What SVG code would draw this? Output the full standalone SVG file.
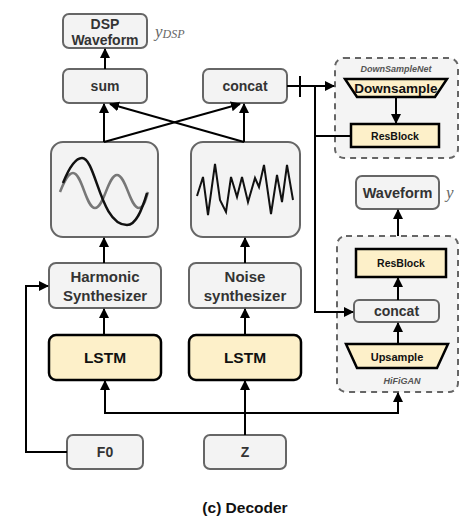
<svg xmlns="http://www.w3.org/2000/svg" width="474" height="526" viewBox="0 0 474 526">
<defs>
<marker id="ah" viewBox="0 0 10 10" refX="9" refY="5" markerWidth="10" markerHeight="10" markerUnits="userSpaceOnUse" orient="auto">
<path d="M0,0 L10,5 L0,10 z" fill="#000"/>
</marker>
<style>
.g{fill:#f3f3f3;stroke:#666;stroke-width:2}
.y{fill:#fdf0c9;stroke:#000;stroke-width:2.5}
.dash{fill:#f4f4f4;stroke:#666;stroke-width:2;stroke-dasharray:6,5}
.t{font-family:"Liberation Sans",Arial,sans-serif;font-weight:bold;fill:#333;text-anchor:middle}
.tk{font-family:"Liberation Sans",Arial,sans-serif;font-weight:bold;fill:#111;text-anchor:middle}
.lab{font-family:"Liberation Sans",Arial,sans-serif;font-weight:bold;font-style:italic;fill:#555;font-size:9px;text-anchor:middle}
.m{font-family:"Liberation Serif","Times New Roman",serif;font-style:italic;fill:#666}
.c{fill:none;stroke:#000;stroke-width:2}
</style>
</defs>
<rect width="474" height="526" fill="#fff"/>

<g id="dsp">
<rect class="g" x="63" y="14" width="84" height="34" rx="6"/>
<text class="t" x="105" y="29" font-size="14">DSP</text>
<text class="t" x="105" y="44.5" font-size="14">Waveform</text>
<text class="m" x="155" y="37" font-size="17">y<tspan font-size="12" dy="1">DSP</tspan></text>
</g>
<g id="sum">
<rect class="g" x="63" y="69" width="84" height="34" rx="6"/>
<text class="t" x="105" y="91" font-size="14">sum</text>
</g>
<g id="concat1">
<rect class="g" x="203" y="69" width="84" height="34" rx="6"/>
<text class="t" x="245" y="91" font-size="14">concat</text>
</g>

<g id="downsamplenet">
<rect class="dash" x="335" y="58" width="123" height="100" rx="9"/>
<text class="lab" x="396" y="72">DownSampleNet</text>
<path class="y" d="M345,79 L447,79 L435,97 L357,97 Z" stroke-width="2"/>
<text class="tk" x="396" y="93" font-size="13.5">Downsample</text>
<rect class="y" x="351" y="124" width="88" height="23" stroke-width="2"/>
<text class="tk" x="395" y="140" font-size="10.5">ResBlock</text>
</g>

<g id="waveform">
<rect class="g" x="356" y="176" width="83" height="33" rx="6"/>
<text class="t" x="397.5" y="197.5" font-size="14.5">Waveform</text>
<text class="m" x="446" y="198" font-size="17">y</text>
</g>

<g id="hifigan">
<rect class="dash" x="337" y="236" width="121" height="156" rx="9"/>
<rect class="y" x="356" y="249" width="90" height="28" stroke-width="2"/>
<text class="tk" x="401" y="267" font-size="10.5">ResBlock</text>
<rect class="g" x="354" y="300" width="85" height="22" rx="5"/>
<text class="t" x="396.5" y="316" font-size="14">concat</text>
<path class="y" d="M346,344 L448,344 L437,368 L357,368 Z" stroke-width="2"/>
<text class="tk" x="397" y="361" font-size="11">Upsample</text>
<text class="lab" x="402" y="384">HiFiGAN</text>
</g>

<g id="harmonic-wave">
<rect class="g" x="51" y="142" width="107" height="95" rx="12"/>
<path fill="none" stroke="#777" stroke-width="2.5" d="M60,192 C64,182 68,173 73,173 C82,173 86,208 95,208 C104,208 108,175 117,175 C126,175 130,208 139,208 C144,208 146,198 148,192"/>
<path fill="none" stroke="#111" stroke-width="2.5" d="M63,183 C69,168 75,158 82,158 C96,158 100,225 127,225 C136,225 142,210 147,193"/>
</g>
<g id="noise-wave">
<rect class="g" x="191" y="142" width="109" height="95" rx="12"/>
<polyline fill="none" stroke="#111" stroke-width="2" points="197,196 203,177 208,215 215,164 220,200 226,212 231,177 237,197 242,177 248,202 255,178 259,187 264,165 271,214 277,175 282,202 287,165 293,200"/>
</g>

<g id="harmonic-synth">
<rect class="g" x="49" y="263" width="112" height="45" rx="7"/>
<text class="t" x="105" y="282" font-size="15">Harmonic</text>
<text class="t" x="105" y="301" font-size="15">Synthesizer</text>
</g>
<g id="noise-synth">
<rect class="g" x="189" y="263" width="112" height="45" rx="7"/>
<text class="t" x="245" y="282" font-size="15">Noise</text>
<text class="t" x="245" y="301" font-size="15">synthesizer</text>
</g>

<g id="lstm1">
<rect class="y" x="49" y="335" width="112" height="45" rx="7"/>
<text class="tk" x="105" y="363" font-size="15.5">LSTM</text>
</g>
<g id="lstm2">
<rect class="y" x="189" y="335" width="112" height="45" rx="7"/>
<text class="tk" x="245" y="363" font-size="15.5">LSTM</text>
</g>

<g id="f0">
<rect class="g" x="67" y="435" width="76" height="34" rx="6"/>
<text class="t" x="105" y="457" font-size="14">F0</text>
</g>
<g id="z">
<rect class="g" x="204" y="435" width="82" height="34" rx="6"/>
<text class="t" x="245" y="457" font-size="14">Z</text>
</g>

<g id="connectors">
<line class="c" x1="105" y1="69" x2="105" y2="49" marker-end="url(#ah)"/>
<line class="c" x1="104" y1="142" x2="104" y2="104" marker-end="url(#ah)"/>
<line class="c" x1="104" y1="142" x2="240" y2="104" marker-end="url(#ah)"/>
<line class="c" x1="244" y1="142" x2="110" y2="104" marker-end="url(#ah)"/>
<line class="c" x1="244" y1="142" x2="244" y2="104" marker-end="url(#ah)"/>
<line class="c" x1="287" y1="86" x2="334" y2="86" marker-end="url(#ah)"/>
<line class="c" x1="300" y1="76" x2="300" y2="97"/>
<polyline class="c" points="315,86 315,312 353,312" marker-end="url(#ah)"/>
<line class="c" x1="315" y1="136" x2="351" y2="136"/>
<line class="c" x1="396" y1="97" x2="396" y2="123" marker-end="url(#ah)"/>
<line class="c" x1="398" y1="236" x2="398" y2="210" marker-end="url(#ah)"/>
<line class="c" x1="398" y1="300" x2="398" y2="278" marker-end="url(#ah)"/>
<line class="c" x1="398" y1="344" x2="398" y2="323" marker-end="url(#ah)"/>
<line class="c" x1="104" y1="263" x2="104" y2="238" marker-end="url(#ah)"/>
<line class="c" x1="245" y1="263" x2="245" y2="238" marker-end="url(#ah)"/>
<line class="c" x1="104" y1="335" x2="104" y2="309" marker-end="url(#ah)"/>
<line class="c" x1="245" y1="335" x2="245" y2="309" marker-end="url(#ah)"/>
<polyline class="c" points="67,452 26,452 26,286 48,286" marker-end="url(#ah)"/>
<line class="c" x1="245" y1="435" x2="245" y2="381" marker-end="url(#ah)"/>
<polyline class="c" points="105,413 398,413 398,393" marker-end="url(#ah)"/>
<line class="c" x1="105" y1="414" x2="105" y2="381" marker-end="url(#ah)"/>
</g>

<text class="tk" x="245" y="513" font-size="15.5">(c) Decoder</text>
</svg>
